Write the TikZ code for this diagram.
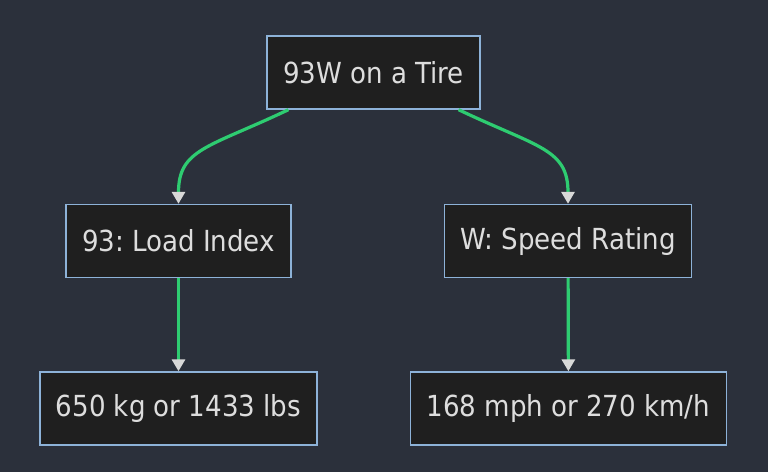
\documentclass[tikz,border=0pt]{standalone}
\usepackage{fontspec}
\setmainfont{DejaVu Sans Condensed}
\usetikzlibrary{arrows.meta}
\definecolor{bgslate}{HTML}{2B303B}
\definecolor{boxfill}{HTML}{1F1F1F}
\definecolor{boxline}{HTML}{8DB2D8}
\definecolor{linkgreen}{HTML}{2ECC71}
\definecolor{tipgray}{HTML}{D8D8D8}
\definecolor{txtgray}{HTML}{DDDDDD}
\frenchspacing
\tikzset{
  tirebox/.style={draw=boxline, line width=1.4pt, fill=boxfill, text=txtgray,
    minimum height=73pt, inner xsep=16pt, font=\fontsize{29}{32}\selectfont},
  link/.style={draw=linkgreen, line width=3.2pt,
    -{Triangle[width=13pt,length=12pt,color=tipgray]}}
}
\begin{document}
\begin{tikzpicture}[x=1pt,y=-1pt]
\fill[bgslate] (0,0) rectangle (768,472);
\useasboundingbox (0,0) rectangle (768,472);
\node[tirebox] (tire) at (373.5,72.5) {93W on a Tire};
\node[tirebox] (load) at (178.5,241) {93: Load Index};
\node[tirebox] (speed) at (568,241) {W: Speed Rating};
\node[tirebox] (kg) at (178.5,408.5) {650 kg or 1433 lbs};
\node[tirebox] (mph) at (568.5,408.5) {168 mph or 270 km/h};
\draw[link] ([xshift=22pt]tire.south west) .. controls +(-80,38) and +(0,-55) .. (load.north);
\draw[link] ([xshift=-22pt]tire.south east) .. controls +(80,38) and +(0,-55) .. (speed.north);
\draw[link] (load) -- (kg);
\draw[link] (speed) -- (mph);
\end{tikzpicture}
\end{document}
